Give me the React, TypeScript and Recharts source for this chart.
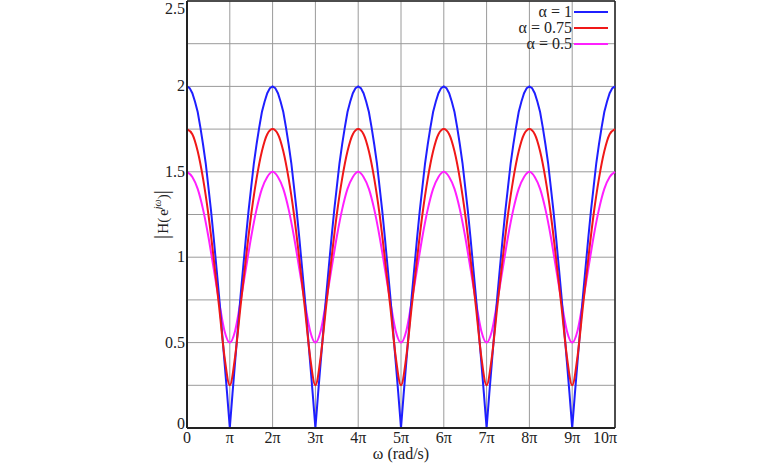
import { LineChart, Line, XAxis, YAxis, CartesianGrid, ReferenceLine, Label } from 'recharts'

// ω in units of π, every π/8 (α = 0.75 and α = 0.5)
const omegaPi = [
  0, 0.125, 0.25, 0.375, 0.5, 0.625, 0.75, 0.875, 1, 1.125, 1.25, 1.375, 1.5, 1.625, 1.75, 1.875,
  2, 2.125, 2.25, 2.375, 2.5, 2.625, 2.75, 2.875, 3, 3.125, 3.25, 3.375, 3.5, 3.625, 3.75, 3.875,
  4, 4.125, 4.25, 4.375, 4.5, 4.625, 4.75, 4.875, 5, 5.125, 5.25, 5.375, 5.5, 5.625, 5.75, 5.875,
  6, 6.125, 6.25, 6.375, 6.5, 6.625, 6.75, 6.875, 7, 7.125, 7.25, 7.375, 7.5, 7.625, 7.75, 7.875,
  8, 8.125, 8.25, 8.375, 8.5, 8.625, 8.75, 8.875, 9, 9.125, 9.25, 9.375, 9.5, 9.625, 9.75, 9.875,
  10,
]

const alpha075 = [
  1.75, 1.72, 1.62, 1.46, 1.25, 0.99, 0.71, 0.42, 0.25, 0.42, 0.71, 0.99, 1.25, 1.46, 1.62, 1.72,
  1.75, 1.72, 1.62, 1.46, 1.25, 0.99, 0.71, 0.42, 0.25, 0.42, 0.71, 0.99, 1.25, 1.46, 1.62, 1.72,
  1.75, 1.72, 1.62, 1.46, 1.25, 0.99, 0.71, 0.42, 0.25, 0.42, 0.71, 0.99, 1.25, 1.46, 1.62, 1.72,
  1.75, 1.72, 1.62, 1.46, 1.25, 0.99, 0.71, 0.42, 0.25, 0.42, 0.71, 0.99, 1.25, 1.46, 1.62, 1.72,
  1.75, 1.72, 1.62, 1.46, 1.25, 0.99, 0.71, 0.42, 0.25, 0.42, 0.71, 0.99, 1.25, 1.46, 1.62, 1.72,
  1.75,
]

const alpha05 = [
  1.5, 1.47, 1.4, 1.28, 1.12, 0.93, 0.74, 0.57, 0.5, 0.57, 0.74, 0.93, 1.12, 1.28, 1.4, 1.47,
  1.5, 1.47, 1.4, 1.28, 1.12, 0.93, 0.74, 0.57, 0.5, 0.57, 0.74, 0.93, 1.12, 1.28, 1.4, 1.47,
  1.5, 1.47, 1.4, 1.28, 1.12, 0.93, 0.74, 0.57, 0.5, 0.57, 0.74, 0.93, 1.12, 1.28, 1.4, 1.47,
  1.5, 1.47, 1.4, 1.28, 1.12, 0.93, 0.74, 0.57, 0.5, 0.57, 0.74, 0.93, 1.12, 1.28, 1.4, 1.47,
  1.5, 1.47, 1.4, 1.28, 1.12, 0.93, 0.74, 0.57, 0.5, 0.57, 0.74, 0.93, 1.12, 1.28, 1.4, 1.47,
  1.5,
]

const omegaPiFine = [
  0, 0.0625, 0.125, 0.1875, 0.25, 0.3125, 0.375, 0.4375, 0.5, 0.5625, 0.625, 0.6875, 0.75, 0.8125, 0.875, 0.9375,
  1, 1.0625, 1.125, 1.1875, 1.25, 1.3125, 1.375, 1.4375, 1.5, 1.5625, 1.625, 1.6875, 1.75, 1.8125, 1.875, 1.9375,
  2, 2.0625, 2.125, 2.1875, 2.25, 2.3125, 2.375, 2.4375, 2.5, 2.5625, 2.625, 2.6875, 2.75, 2.8125, 2.875, 2.9375,
  3, 3.0625, 3.125, 3.1875, 3.25, 3.3125, 3.375, 3.4375, 3.5, 3.5625, 3.625, 3.6875, 3.75, 3.8125, 3.875, 3.9375,
  4, 4.0625, 4.125, 4.1875, 4.25, 4.3125, 4.375, 4.4375, 4.5, 4.5625, 4.625, 4.6875, 4.75, 4.8125, 4.875, 4.9375,
  5, 5.0625, 5.125, 5.1875, 5.25, 5.3125, 5.375, 5.4375, 5.5, 5.5625, 5.625, 5.6875, 5.75, 5.8125, 5.875, 5.9375,
  6, 6.0625, 6.125, 6.1875, 6.25, 6.3125, 6.375, 6.4375, 6.5, 6.5625, 6.625, 6.6875, 6.75, 6.8125, 6.875, 6.9375,
  7, 7.0625, 7.125, 7.1875, 7.25, 7.3125, 7.375, 7.4375, 7.5, 7.5625, 7.625, 7.6875, 7.75, 7.8125, 7.875, 7.9375,
  8, 8.0625, 8.125, 8.1875, 8.25, 8.3125, 8.375, 8.4375, 8.5, 8.5625, 8.625, 8.6875, 8.75, 8.8125, 8.875, 8.9375,
  9, 9.0625, 9.125, 9.1875, 9.25, 9.3125, 9.375, 9.4375, 9.5, 9.5625, 9.625, 9.6875, 9.75, 9.8125, 9.875, 9.9375,
  10,
]

const alpha1 = [
  2, 1.99, 1.96, 1.91, 1.85, 1.76, 1.66, 1.55, 1.41, 1.27, 1.11, 0.94, 0.77, 0.58, 0.39, 0.2,
  0, 0.2, 0.39, 0.58, 0.77, 0.94, 1.11, 1.27, 1.41, 1.55, 1.66, 1.76, 1.85, 1.91, 1.96, 1.99,
  2, 1.99, 1.96, 1.91, 1.85, 1.76, 1.66, 1.55, 1.41, 1.27, 1.11, 0.94, 0.77, 0.58, 0.39, 0.2,
  0, 0.2, 0.39, 0.58, 0.77, 0.94, 1.11, 1.27, 1.41, 1.55, 1.66, 1.76, 1.85, 1.91, 1.96, 1.99,
  2, 1.99, 1.96, 1.91, 1.85, 1.76, 1.66, 1.55, 1.41, 1.27, 1.11, 0.94, 0.77, 0.58, 0.39, 0.2,
  0, 0.2, 0.39, 0.58, 0.77, 0.94, 1.11, 1.27, 1.41, 1.55, 1.66, 1.76, 1.85, 1.91, 1.96, 1.99,
  2, 1.99, 1.96, 1.91, 1.85, 1.76, 1.66, 1.55, 1.41, 1.27, 1.11, 0.94, 0.77, 0.58, 0.39, 0.2,
  0, 0.2, 0.39, 0.58, 0.77, 0.94, 1.11, 1.27, 1.41, 1.55, 1.66, 1.76, 1.85, 1.91, 1.96, 1.99,
  2, 1.99, 1.96, 1.91, 1.85, 1.76, 1.66, 1.55, 1.41, 1.27, 1.11, 0.94, 0.77, 0.58, 0.39, 0.2,
  0, 0.2, 0.39, 0.58, 0.77, 0.94, 1.11, 1.27, 1.41, 1.55, 1.66, 1.76, 1.85, 1.91, 1.96, 1.99,
  2,
]

const xTicks = [0, 1, 2, 3, 4, 5, 6, 7, 8, 9, 10]
const xTickLabels = ['0', 'π', '2π', '3π', '4π', '5π', '6π', '7π', '8π', '9π', '10π']
const yTicks = [0, 0.25, 0.5, 0.75, 1, 1.25, 1.5, 1.75, 2, 2.25, 2.5]
const yTickLabels = ['0', '', '0.5', '', '1', '', '1.5', '', '2', '', '2.5']

const series = [
  { key: 'a1', label: 'α = 1', color: '#1f1fff' },
  { key: 'a075', label: 'α = 0.75', color: '#f01818' },
  { key: 'a05', label: 'α = 0.5', color: '#ff20ff' },
]

const data = omegaPi.map((w, i) => ({ w, a075: alpha075[i], a05: alpha05[i] }))
const fineData = omegaPiFine.map((w, i) => ({ w, a1: alpha1[i] }))

const FONT = '"Liberation Serif", "DejaVu Serif", serif'
const INK = '#222'

function XTick({ x, y, index }: any) {
  const last = index === xTicks.length - 1
  return (
    <text x={last ? x + 2 : x} y={y + 7} textAnchor={last ? 'end' : 'middle'} fontFamily={FONT} fontSize={16} fill={INK}>
      {xTickLabels[index]}
    </text>
  )
}

function YTick({ x, y, index }: any) {
  const label = yTickLabels[index]
  if (!label) return null
  const dy = index === yTicks.length - 1 ? 13 : index === 0 ? 1 : 5
  return (
    <text x={x + 6} y={y + dy} textAnchor="end" fontFamily={FONT} fontSize={16} fill={INK}>
      {label}
    </text>
  )
}

function YTitle({ viewBox }: any) {
  const cx = viewBox.x + viewBox.width - 19
  const cy = viewBox.y + viewBox.height / 2
  return (
    <text x={cx} y={cy} transform={`rotate(-90 ${cx} ${cy})`} textAnchor="middle" fontFamily={FONT} fontSize={15} fill={INK}>
      <tspan fontSize={21}>|</tspan>
      <tspan dx={1}>H(</tspan>
      <tspan dx={2}>e</tspan>
      <tspan fontSize={10} dy={-7} fontStyle="italic">jω</tspan>
      <tspan dy={7}>)</tspan>
      <tspan fontSize={21}>|</tspan>
    </text>
  )
}

export default function App() {
  return (
    <div style={{ position: 'fixed', left: 0, top: 0, width: 768, height: 463, background: '#fff' }}>
      <LineChart width={768} height={463} data={data} margin={{ top: 1, right: 153, left: 0, bottom: 0 }}>
        <CartesianGrid stroke="#9a9a9a" strokeWidth={1} />
        <XAxis dataKey="w" type="number" domain={[0, 10]} ticks={xTicks} tick={<XTick />} tickLine={false}
          axisLine={{ stroke: INK, strokeWidth: 2 }} height={35} interval={0} allowDuplicatedCategory={false}>
          <Label value="ω (rad/s)" position="insideBottom" offset={4} style={{ fontFamily: FONT, fontSize: 16, fill: INK }} />
        </XAxis>
        <YAxis type="number" domain={[0, 2.5]} ticks={yTicks} tick={<YTick />} tickLine={false}
          axisLine={{ stroke: INK, strokeWidth: 2 }} width={187} interval={0} allowDataOverflow>
          <Label content={<YTitle />} />
        </YAxis>
        <ReferenceLine y={2.5} stroke={INK} strokeWidth={1.5} />
        <ReferenceLine x={10} stroke={INK} strokeWidth={1.5} />
        <Line dataKey="a05" name="α = 0.5" type="monotone" stroke="#ff20ff" strokeWidth={2} dot={false} isAnimationActive={false} />
        <Line data={fineData} dataKey="a1" name="α = 1" type="linear" stroke="#1f1fff" strokeWidth={2} dot={false} isAnimationActive={false} />
        <Line dataKey="a075" name="α = 0.75" type="monotone" stroke="#f01818" strokeWidth={2} dot={false} isAnimationActive={false} />
      </LineChart>
      <div style={{ position: 'absolute', top: 4, left: 460, width: 148, fontFamily: FONT, fontSize: 16, color: INK, lineHeight: '16px' }}>
        {series.map((s) => (
          <div key={s.key} style={{ display: 'flex', alignItems: 'center', justifyContent: 'flex-end' }}>
            <span>{s.label}</span>
            <span style={{ display: 'inline-block', width: 34, height: 2, background: s.color, marginLeft: 2 }} />
          </div>
        ))}
      </div>
    </div>
  )
}
